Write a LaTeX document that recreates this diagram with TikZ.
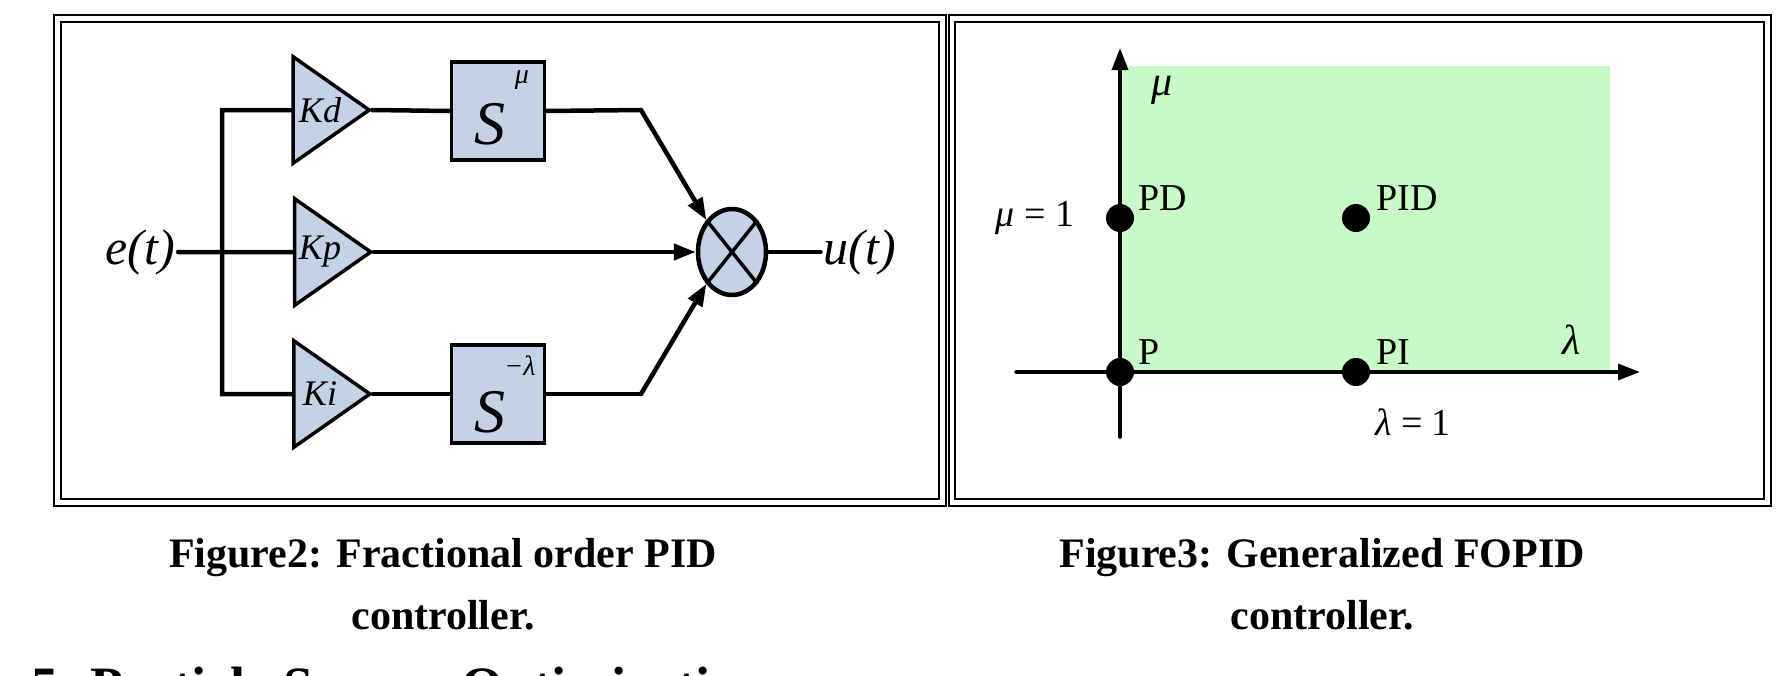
\documentclass[tikz,border=0pt]{standalone}
\usepackage{fontspec}
\setmainfont{Liberation Serif}
\usetikzlibrary{arrows.meta,shapes.geometric}
\definecolor{blk}{RGB}{195,210,228}
\definecolor{grn}{RGB}{200,250,200}
\tikzset{
 x=1pt,y=-1pt,
 ln/.style={line width=4.5pt,line cap=round},
 arr/.style={ln,-{Triangle[length=22pt,width=16pt]}},
 tri/.style={draw,line width=3.5pt,fill=blk,isosceles triangle,isosceles triangle apex angle=70,minimum height=76pt,inner sep=0pt,font=\fontsize{36}{36}\selectfont\itshape},
 box/.style={draw,line width=3.5pt,fill=blk,minimum width=93pt,minimum height=98pt,inner sep=0pt},
 dot/.style={circle,fill=black,minimum size=28pt,inner sep=0pt},
 lbl/.style={font=\fontsize{38}{38}\selectfont},
 captxt/.style={font=\fontsize{42}{62}\selectfont\bfseries,align=center},
}
\begin{document}
\begin{tikzpicture}
\useasboundingbox (0,0) rectangle (1780,675);
\fill[white] (0,0) rectangle (1780,675);
% frames
\draw[line width=2.5pt] (54,15) rectangle (946,506);
\draw[line width=2.5pt] (61,22) rectangle (939,499);
\draw[line width=2.5pt] (949,15) rectangle (1771,506);
\draw[line width=2.5pt] (955,22) rectangle (1764,499);
% left diagram
\node[font=\fontsize{50}{50}\selectfont\itshape] (e) at (140,252) {e(t)};
\node[font=\fontsize{50}{50}\selectfont\itshape] (u) at (860,252) {u(t)};
\node[tri] (kd) at (320,110) {Kd};
\node[tri] (kp) at (320,252) {Kp};
\node[tri] (ki) at (320,394) {Ki};
\node[box] (s1) at (498,111) {};
\node[box] (s2) at (498,394) {};
\node[font=\fontsize{62}{62}\selectfont\itshape] at (490,124) {S};
\node[font=\fontsize{28}{28}\selectfont\itshape] at (522,80) {μ};
\node[font=\fontsize{62}{62}\selectfont\itshape] at (490,412) {S};
\node[font=\fontsize{28}{28}\selectfont\itshape] at (520,366) {−λ};
\node[ellipse,draw,line width=4.5pt,fill=blk,minimum width=68pt,minimum height=86pt,inner sep=0pt] (sum) at (732,252) {};
\draw[line width=3.5pt] (sum.north west) -- (sum.south east) (sum.north east) -- (sum.south west);
\coordinate (b1) at (222,110);
\coordinate (b2) at (222,394);
\coordinate (c1) at (641,110);
\coordinate (c2) at (641,394);
\draw[ln] (e.east) -- (kp.west);
\draw[ln] (kd.west) -- (b1) -- (b2) -- (ki.west);
\draw[ln] (kd.apex) -- (s1.west);
\draw[ln] (ki.apex) -- (s2.west);
\draw[ln] (s1.east) -- (c1);
\draw[ln] (s2.east) -- (c2);
\draw[arr] (c1) -- (sum.north west);
\draw[arr] (c2) -- (sum.south west);
\draw[arr] (kp.apex) -- (sum.west);
\draw[ln] (sum.east) -- (u.west);
% right diagram
\fill[grn] (1120,66) rectangle (1610,372);
\coordinate (vb) at (1120,437);
\coordinate (vt) at (1120,48);
\coordinate (hl) at (1016,372);
\coordinate (hr) at (1640,372);
\draw[arr,line width=3.5pt] (vb) -- (vt);
\draw[arr,line width=3.5pt] (hl) -- (hr);
\node[dot] (pd) at (1120,218) {};
\node[dot] (pid) at (1356,218) {};
\node[dot] (p) at (1120,372) {};
\node[dot] (pi) at (1356,372) {};
\node[lbl,font=\fontsize{42}{42}\selectfont\itshape] at (1162,90) {μ};
\node[lbl,anchor=south west] at (1135,214) {PD};
\node[lbl,anchor=south west] at (1373,214) {PID};
\node[lbl,anchor=south west] at (1135,368) {P};
\node[lbl,anchor=south west] at (1373,368) {PI};
\node[lbl,font=\fontsize{42}{42}\selectfont\itshape] at (1572,340) {λ};
\node[lbl,anchor=east] at (1078,218) {\textit{μ} = 1};
\node[lbl] at (1413,422) {\textit{λ} = 1};
% captions
\node[captxt] at (443,584) {Figure2: Fractional order PID\\controller.};
\node[captxt] at (1322,584) {Figure3: Generalized FOPID\\controller.};
\begin{scope}
\clip (0,0) rectangle (1780,675);
\node[font=\fontsize{54}{54}\selectfont\bfseries,anchor=west] at (28,692) {5. Particle Swarm Optimization};
\end{scope}
\end{tikzpicture}
\end{document}
